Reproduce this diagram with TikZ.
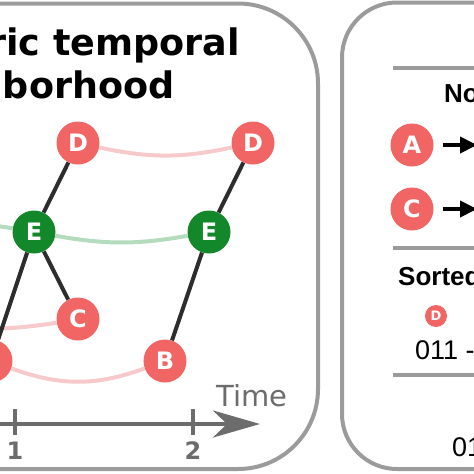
\documentclass[tikz,border=0pt]{standalone}
\usepackage{fontspec}
\setmainfont{DejaVu Sans}
\newfontfamily\arialfont{Liberation Sans}
\usetikzlibrary{arrows.meta}
\definecolor{nodered}{RGB}{241,101,101}
\definecolor{nodegreen}{RGB}{18,136,42}
\definecolor{fadered}{RGB}{246,202,202}
\definecolor{fadegreen}{RGB}{180,219,190}
\definecolor{boxgray}{RGB}{155,155,155}
\definecolor{axisgray}{RGB}{108,108,108}
\definecolor{tiegray}{RGB}{45,45,45}

\begin{document}
\begin{tikzpicture}[x=1pt,y=1pt,
  rv/.style={circle,fill=nodered,minimum size=43pt,inner sep=0pt,text=white,font=\fontsize{24}{24}\selectfont\bfseries},
  gv/.style={rv,fill=nodegreen},
  tie/.style={line width=4pt,draw=tiegray},
  fadetie/.style={line width=4pt,draw=fadered},
  greentie/.style={line width=4pt,draw=fadegreen},
  frame/.style={line width=4pt,draw=boxgray},
  axis/.style={line width=4pt,draw=axisgray},
  title/.style={inner sep=0pt,anchor=base,font=\fontsize{36.5}{44}\selectfont\bfseries},
  head/.style={inner sep=0pt,anchor=base west,font=\arialfont\fontsize{26}{26}\selectfont\bfseries},
  code/.style={inner sep=0pt,anchor=base west,font=\arialfont\fontsize{27}{27}\selectfont}]
\useasboundingbox (0,0) rectangle (474,-474);

% the two panels
\draw[frame,rounded corners=80pt] (-300,-3.5) rectangle (318,-469);
\draw[frame,rounded corners=55pt] (342,-2.5) rectangle (700,-469);

% left panel
\node[title] (tl1) at (31,-55) {Egocentric temporal};
\node[title] (tl2) at (31,-98) {neighborhood};

\node[rv] (D1) at (78,-143) {D};
\node[rv] (D2) at (253,-143) {D};
\node[gv] (E1) at (34,-232) {E};
\node[gv] (E2) at (209,-232) {E};
\node[rv] (C1) at (78,-319) {C};
\node[rv] (A1) at (-9,-361) {A};
\node[rv] (B2) at (165,-361) {B};
\coordinate (E0) at (-141,-232);
\coordinate (C0) at (-97,-319);

\draw[fadetie] (D1) to[bend right=12] (D2);
\draw[greentie] (E1) to[bend right=10] (E2);
\draw[greentie] (E0) to[bend left=10] (E1);
\draw[fadetie] (C0) to[bend right=10] (C1);
\draw[fadetie] (A1) to[bend right=20] (B2);

\draw[tie] (D1) -- (E1);
\draw[tie] (E1) -- (C1);
\draw[tie] (E1) -- (A1);
\draw[tie] (D2) -- (E2);
\draw[tie] (E2) -- (B2);

% time axis
\coordinate (ax0) at (-250,-424);
\coordinate (ax1) at (260,-424);
\draw[axis,-{Stealth[length=47pt,width=27pt,inset=14pt]}] (ax0) -- (ax1);
\draw[axis] (15,-409) -- (15,-435);
\draw[axis] (193,-409) -- (193,-435);
\node[inner sep=0pt,text=axisgray,font=\fontsize{24}{24}\selectfont\bfseries] (t1) at (15,-451) {1};
\node[inner sep=0pt,text=axisgray,font=\fontsize{24}{24}\selectfont\bfseries] (t2) at (193,-451) {2};
\node[inner sep=0pt,text=axisgray,font=\fontsize{29}{29}\selectfont] (tm) at (252,-396) {Time};

% right panel
\draw[frame] (393,-68) -- (520,-68);
\draw[frame] (393,-248) -- (520,-248);
\draw[frame] (393,-375) -- (520,-375);

\node[head] (nh) at (444,-102) {Node};
\node[rv] (A2) at (412,-145) {A};
\node[rv] (C2) at (412,-209) {C};
\coordinate (aA) at (477,-145);
\coordinate (aC) at (477,-209);
\draw[line width=4pt,shorten <=9pt,-{Triangle[length=17pt,width=16pt]}] (A2) -- (aA);
\draw[line width=4pt,shorten <=9pt,-{Triangle[length=17pt,width=16pt]}] (C2) -- (aC);

\node[head] (sh) at (398,-285) {Sorted};
\node[rv,minimum size=22pt,font=\fontsize{13}{13}\selectfont\bfseries] (Ds) at (436,-316) {D};
\node[code] (c1) at (415,-359) {011 -};
\node[code] (c2) at (452,-456) {01};
\end{tikzpicture}
\end{document}
